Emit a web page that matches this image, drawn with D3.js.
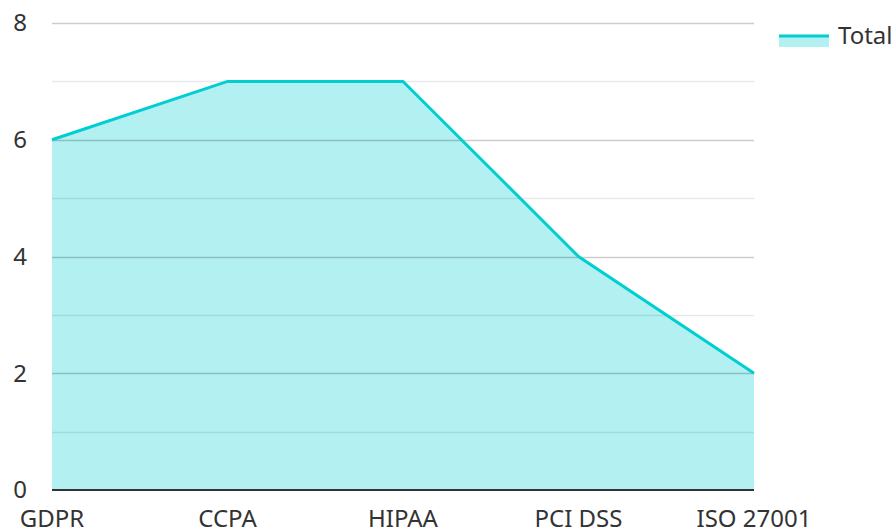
<!DOCTYPE html>
<html>
<head>
<meta charset="utf-8">
<script src="https://cdn.jsdelivr.net/npm/d3@7"></script>
<style>
body { margin: 0; background: #fff; }
text { font-family: "Noto Sans", "Open Sans", sans-serif; fill: #333; }
</style>
</head>
<body>
<script>
const categories = ['GDPR', 'CCPA', 'HIPAA', 'PCI DSS', 'ISO 27001']
const totals = [6, 7, 7, 4, 2]
const yTicks = [0, 2, 4, 6, 8]
const seriesName = 'Total'

const W = 895, H = 531
const plot = { left: 52, right: 754, top: 23, bottom: 490 }
const color = '#00ced1'
const fontSize = 24

const svg = d3.select('body').append('svg')
  .attr('width', W).attr('height', H)

const x = d3.scalePoint().domain(categories).range([plot.left, plot.right])
const y = d3.scaleLinear().domain([0, 8]).range([plot.bottom, plot.top])

// area fill
const data = categories.map((c, i) => ({ c, v: totals[i] }))
svg.append('path')
  .datum(data)
  .attr('fill', color)
  .attr('fill-opacity', 0.3)
  .attr('d', d3.area().x(d => x(d.c)).y0(y(0)).y1(d => y(d.v)))

// gridlines (drawn over the fill)
svg.append('g')
  .selectAll('line')
  .data(d3.range(1, 9))
  .join('line')
    .attr('x1', plot.left).attr('x2', plot.right)
    .attr('y1', d => Math.round(y(d)) + 0.5).attr('y2', d => Math.round(y(d)) + 0.5)
    .attr('stroke', d => d % 2 === 0 ? 'rgba(0,0,0,0.2)' : 'rgba(0,0,0,0.09)')
    .attr('stroke-width', 1.5)

// line
svg.append('path')
  .datum(data)
  .attr('fill', 'none')
  .attr('stroke', color)
  .attr('stroke-width', 3)
  .attr('d', d3.line().x(d => x(d.c)).y(d => y(d.v)))

// baseline
svg.append('line')
  .attr('x1', plot.left).attr('x2', plot.right)
  .attr('y1', y(0)).attr('y2', y(0))
  .attr('stroke', '#333').attr('stroke-width', 2)

// y labels
svg.append('g')
  .selectAll('text')
  .data(yTicks)
  .join('text')
    .attr('x', 27)
    .attr('y', d => y(d))
    .attr('dy', '0.35em')
    .attr('text-anchor', 'end')
    .attr('font-size', fontSize)
    .text(d => d)

// x labels
svg.append('g')
  .selectAll('text')
  .data(categories)
  .join('text')
    .attr('x', d => x(d))
    .attr('y', 527)
    .attr('text-anchor', 'middle')
    .attr('font-size', fontSize)
    .text(d => d)

// legend
const lg = svg.append('g').attr('transform', 'translate(779, 36)')
lg.append('rect').attr('x', 0).attr('y', 0).attr('width', 50).attr('height', 11)
  .attr('fill', color).attr('fill-opacity', 0.3)
lg.append('line').attr('x1', 0).attr('x2', 50).attr('y1', 0).attr('y2', 0)
  .attr('stroke', color).attr('stroke-width', 3)
lg.append('text').attr('x', 59).attr('y', 0).attr('dy', '0.35em')
  .attr('font-size', fontSize).text(seriesName)
</script>
</body>
</html>
